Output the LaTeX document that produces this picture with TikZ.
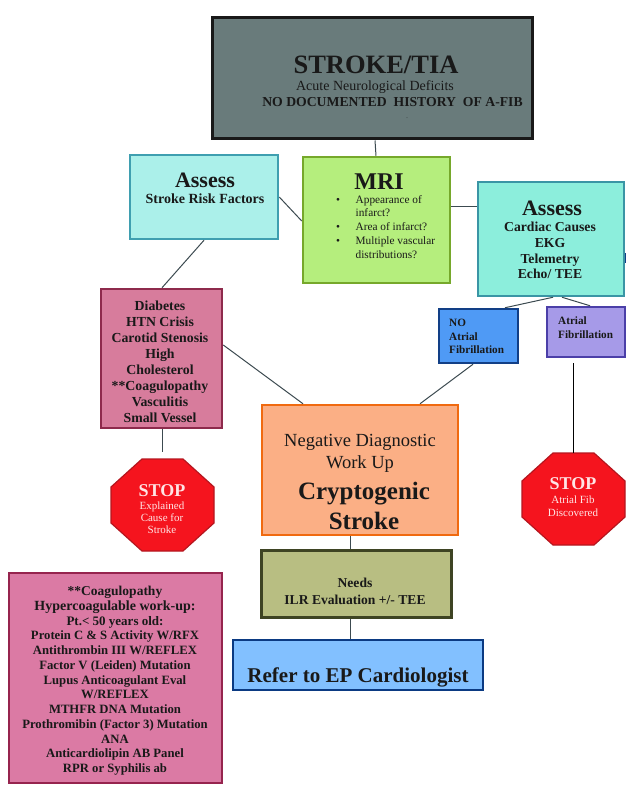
\documentclass[tikz,border=0pt]{standalone}
\usepackage{fontspec}
\setmainfont{Liberation Serif}
\newcommand{\fsz}[2]{\fontsize{#1pt}{#2pt}\selectfont}
\newcommand{\bl}{\makebox[19.5pt][l]{•}}
\tikzset{
  x=1pt,y=-1pt,
  txt/.style={align=center,inner sep=0pt,text=black!90},
}
\definecolor{cStroke}{HTML}{697B7B}
\definecolor{cAL}{HTML}{ABF0EA}\definecolor{bAL}{HTML}{3F9FB0}
\definecolor{cMRI}{HTML}{B5EE7D}\definecolor{bMRI}{HTML}{76A82B}
\definecolor{cAR}{HTML}{8CEEDC}\definecolor{bAR}{HTML}{3A95A5}
\definecolor{cPink}{HTML}{D77C9C}\definecolor{bPink}{HTML}{8E2A4C}
\definecolor{cNo}{HTML}{4F9AF5}\definecolor{bNo}{HTML}{123F86}
\definecolor{cAf}{HTML}{A69AE8}\definecolor{bAf}{HTML}{4B3FA8}
\definecolor{cCr}{HTML}{FBAF85}\definecolor{bCr}{HTML}{F06A10}
\definecolor{cNe}{HTML}{B8BE82}\definecolor{bNe}{HTML}{3E4423}
\definecolor{cRe}{HTML}{82C0FF}\definecolor{bRe}{HTML}{0B3A82}
\definecolor{cCo}{HTML}{DB7AA4}\definecolor{bCo}{HTML}{96244E}
\definecolor{cStop}{HTML}{F5141E}\definecolor{bStop}{HTML}{B5161E}
\definecolor{cLine}{HTML}{3C4A50}
\begin{document}
\begin{tikzpicture}
\useasboundingbox (0,0) rectangle (640,799);
\tikzset{
 rbox/.style n args={3}{draw=#2,fill=#1,line width=#3,inner sep=0pt,rectangle},
 stopnode/.style={inner sep=0pt,minimum width=103pt,minimum height=92pt},
 stopsign/.style={fill=cStop,draw=bStop,line width=1.2pt},
 conn/.style={cLine,line width=1pt},
 stoptxt/.style={txt,text=white!90!red}}
% boxes: centre + size
\node[rbox={cStroke}{black!90}{3pt},minimum width=320pt,minimum height=121pt] (stroke) at (372,78.5) {};
\node[rbox={cAL}{bAL}{2.5pt},minimum width=148pt,minimum height=84pt] (assessL) at (204,197) {};
\node[rbox={cMRI}{bMRI}{2.5pt},minimum width=147pt,minimum height=126pt] (mri) at (376.5,220) {};
\node[rbox={cAR}{bAR}{2.5pt},minimum width=146pt,minimum height=114pt] (assessR) at (551,239) {};
\node[rbox={cPink}{bPink}{2.5pt},minimum width=121pt,minimum height=139pt] (risk) at (161.5,358.5) {};
\node[rbox={cNo}{bNo}{2.5pt},minimum width=79pt,minimum height=54pt] (noaf) at (478.5,336) {};
\node[rbox={cAf}{bAf}{2.5pt},minimum width=78pt,minimum height=50pt] (af) at (586,332) {};
\node[rbox={cCr}{bCr}{2.5pt},minimum width=196pt,minimum height=130pt] (crypt) at (360,470) {};
\node[rbox={cNe}{bNe}{3pt},minimum width=190pt,minimum height=67pt] (needs) at (356,583.5) {};
\node[rbox={cRe}{bRe}{2.5pt},minimum width=250pt,minimum height=50pt] (refer) at (358,665) {};
\node[rbox={cCo}{bCo}{2.5pt},minimum width=213pt,minimum height=210pt] (coag) at (115.5,678) {};
% stop signs
\path[stopsign] (142,459) -- (183,459) -- (214,487) -- (214,523) -- (183,551) -- (142,551) -- (111,523) -- (111,487) -- cycle;
\path[stopsign] (553,453) -- (594,453) -- (625,481) -- (625,517) -- (594,545) -- (553,545) -- (522,517) -- (522,481) -- cycle;
\node[stopnode] (stopL) at (162.5,505) {};
\node[stopnode] (stopR) at (573.5,499) {};
% connectors
\draw[conn] (stroke.south -| 375,0) -- (mri.north -| 376,0);
\draw[conn] (assessL.east |- 0,197) -- (mri.west |- 0,221);
\draw[conn] (mri.east |- 0,206.4) -- (assessR.west |- 0,206.4);
\draw[conn] (assessL.south -| 204,0) -- (risk.north -| 162,0);
\draw[conn] (risk.east |- 0,345) -- (crypt.north -| 303,0);
\draw[conn] (noaf.south -| 473,0) -- (crypt.north -| 420,0);
\draw[conn] (assessR.south -| 553,0) -- (noaf.north -| 505,0);
\draw[conn] (assessR.south -| 562,0) -- (af.north -| 590,0);
\coordinate (afend) at (573.4,363);
\draw[black,line width=1pt] (afend) -- (stopR.north -| afend);
\coordinate (riskend) at (162.4,452);
\draw[conn] (risk.south -| riskend) -- (riskend);
\draw[conn] (crypt.south -| 350.4,0) -- (needs.north -| 350.4,0);
\draw[conn] (needs.south -| 350.4,0) -- (refer.north -| 350.4,0);
\draw[bNo,line width=1.5pt] (assessR.east |- 0,253) -- (assessR.east |- 0,263);
% texts
\node[txt,font=\bfseries\fsz{26.5}{27}] (t1) at (376,65) {STROKE/TIA};
\node[txt,font=\fsz{14}{14}] (t2) at (375,87.5) {Acute Neurological Deficits};
\node[txt,font=\bfseries\fsz{13.7}{14}] (t3) at (392.5,102.5) {NO DOCUMENTED\ \ HISTORY\ \ OF A-FIB};
\node[txt,font=\fsz{6}{6}] (t4) at (407,118) {.};
\node[txt,font=\bfseries\fsz{22}{22}] (t5) at (205,180) {Assess};
\node[txt,font=\bfseries\fsz{14}{15}] (t6) at (205,199) {Stroke Risk Factors};
\node[txt,font=\bfseries\fsz{24}{24}] (t7) at (379,182) {MRI};
\node[txt,align=left,font=\fsz{11.3}{13.75},anchor=north west] (t8) at (336,195) {\bl Appearance of\\\hspace*{19.5pt}infarct?\\\bl Area of infarct?\\\bl Multiple vascular\\\hspace*{19.5pt}distributions?};
\node[txt,font=\bfseries\fsz{22}{22}] (t9) at (552,208) {Assess};
\node[txt,font=\bfseries\fsz{13.7}{15.7},anchor=north] (t10) at (550,222) {Cardiac Causes\\EKG\\Telemetry\\Echo/ TEE};
\node[txt,font=\bfseries\fsz{13.8}{15.9},anchor=north] (t11) at (160,301) {Diabetes\\HTN Crisis\\Carotid Stenosis\\High\\Cholesterol\\**Coagulopathy\\Vasculitis\\Small Vessel};
\node[txt,align=left,font=\bfseries\fsz{11.2}{13.5},anchor=north west] (t12) at (449,319) {NO\\Atrial\\Fibrillation};
\node[txt,align=left,font=\bfseries\fsz{11.2}{13.5},anchor=north west] (t13) at (558,317) {Atrial\\Fibrillation};
\node[txt,font=\fsz{18.5}{22},anchor=north] (t14) at (360,434) {Negative Diagnostic\\Work Up};
\node[txt,font=\bfseries\fsz{25}{29.5},anchor=north] (t15) at (364,482) {Cryptogenic\\Stroke};
\node[stoptxt,font=\bfseries\fsz{18}{18}] (t16) at (162,491) {STOP};
\node[stoptxt,font=\fsz{11}{11.7},anchor=north] (t17) at (162,502) {Explained\\Cause for\\Stroke};
\node[stoptxt,font=\bfseries\fsz{18}{18}] (t18) at (573,484) {STOP};
\node[stoptxt,font=\fsz{11}{12.5},anchor=north] (t19) at (573,496) {Atrial Fib\\Discovered};
\node[txt,font=\bfseries\fsz{13.6}{16.5},anchor=north] (t20) at (355,578) {Needs\\ILR Evaluation +/- TEE};
\node[txt,font=\bfseries\fsz{21}{21}] (t21) at (358,677) {Refer to EP Cardiologist};
\node[txt,font=\bfseries\fsz{12.7}{14.75},anchor=north] (t22) at (115,586) {{\fsz{13.5}{14.75}**Coagulopathy}\\{\fsz{14}{14.75}Hypercoagulable work-up:}\\{\fsz{13}{14.75}Pt.< 50 years old:}\\Protein C \& S Activity W/RFX\\Antithrombin III W/REFLEX\\Factor V (Leiden) Mutation\\Lupus Anticoagulant Eval\\W/REFLEX\\MTHFR DNA Mutation\\Prothromibin (Factor 3) Mutation\\ANA\\Anticardiolipin AB Panel\\RPR or Syphilis ab};
\end{tikzpicture}
\end{document}
